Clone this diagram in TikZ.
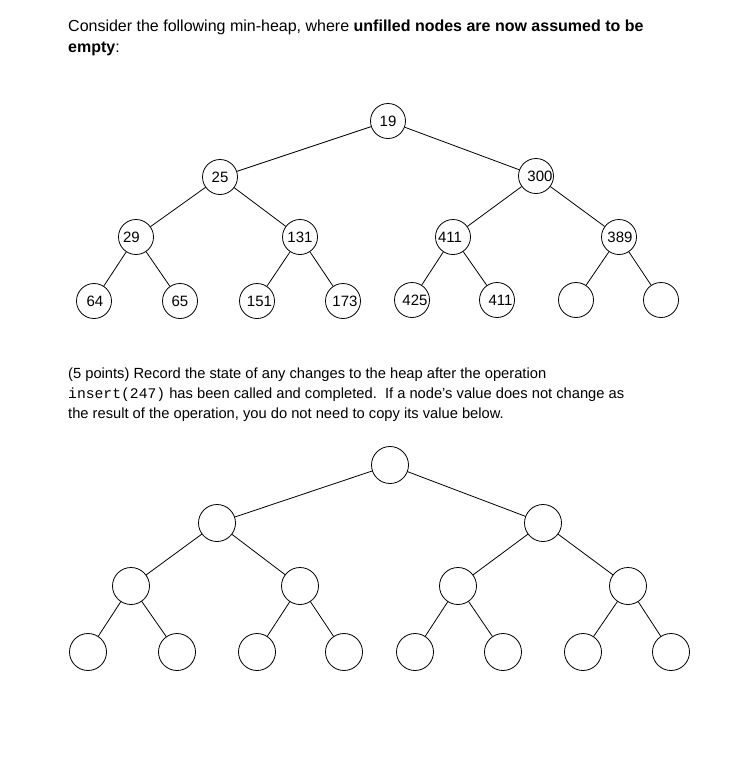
\documentclass[tikz,border=0pt]{standalone}
\usepackage{fontspec}
\setmainfont{Liberation Sans}
\setmonofont{Liberation Mono}
\usetikzlibrary{positioning}

\newcommand{\nudge}[2]{\hspace*{#1}#2}

\begin{document}
\begin{tikzpicture}[x=1pt,y=-1pt, line cap=round, line join=round,
  headtxt/.style={anchor=base west, inner sep=0pt, font=\fontsize{16}{19}\selectfont},
  txt/.style={anchor=base west, inner sep=0pt, font=\fontsize{14.7}{17}\selectfont},
  hnode/.style={circle, draw, line width=0.8pt, inner sep=0pt, minimum size=35pt,
    font=\fontsize{15}{15}\selectfont},
  bnode/.style={hnode, minimum size=37pt},
  edge/.style={line width=0.8pt}]

\useasboundingbox (0,0) rectangle (738,782);

% heading
\node[headtxt] (head1) at (68,31) {Consider the following min-heap, where \textbf{unfilled nodes are now assumed to be}};
\node[headtxt] (head2) at (68,52) {\textbf{empty}:};

% given heap
\node[hnode] (t1) at (388,121) {19};
\node[hnode] (t2) at (220,177) {25};
\node[hnode] (t3) at (536,176) {\nudge{8pt}{300}};
\node[hnode] (t4) at (136,237) {\nudge{-9pt}{29}};
\node[hnode] (t5) at (300,237) {131};
\node[hnode] (t6) at (453,237) {\nudge{-6pt}{411}};
\node[hnode] (t7) at (619,237) {\nudge{2pt}{389}};
\node[hnode] (t8)  at (94,301)  {\nudge{2pt}{64}};
\node[hnode] (t9)  at (180,301) {65};
\node[hnode] (t10) at (257,301) {\nudge{5pt}{151}};
\node[hnode] (t11) at (343,301) {\nudge{4pt}{173}};
\node[hnode] (t12) at (412,300) {\nudge{6pt}{\raisebox{-2pt}{425}}};
\node[hnode] (t13) at (497,300) {\nudge{7pt}{411}};
\node[hnode] (t14) at (576,300) {};
\node[hnode] (t15) at (661,300) {};

\draw[edge] (t1) -- (t2);
\draw[edge] (t1) -- (t3);
\draw[edge] (t2) -- (t4);
\draw[edge] (t2) -- (t5);
\draw[edge] (t3) -- (t6);
\draw[edge] (t3) -- (t7);
\draw[edge] (t4) -- (t8);
\draw[edge] (t4) -- (t9);
\draw[edge] (t5) -- (t10);
\draw[edge] (t5) -- (t11);
\draw[edge] (t6) -- (t12);
\draw[edge] (t6) -- (t13);
\draw[edge] (t7) -- (t14);
\draw[edge] (t7) -- (t15);

% question
\node[txt] (q1) at (68,378) {(5 points) Record the state of any changes to the heap after the operation};
\node[txt] (q2) at (68,398) {\texttt{insert(247)} has been called and completed.\ \ If a node's value does not change as};
\node[txt] (q3) at (68,418) {the result of the operation, you do not need to copy its value below.};

% answer heap
\node[bnode] (b1) at (390,465) {};
\node[bnode] (b2) at (217,523) {};
\node[bnode] (b3) at (543,523) {};
\node[bnode] (b4) at (131,586) {};
\node[bnode] (b5) at (300,586) {};
\node[bnode] (b6) at (458,586) {};
\node[bnode] (b7) at (628,586) {};
\node[bnode] (b8)  at (88,652)  {};
\node[bnode] (b9)  at (177,652) {};
\node[bnode] (b10) at (257,652) {};
\node[bnode] (b11) at (344,652) {};
\node[bnode] (b12) at (415,652) {};
\node[bnode] (b13) at (503,652) {};
\node[bnode] (b14) at (583,652) {};
\node[bnode] (b15) at (671,652) {};

\draw[edge] (b1) -- (b2);
\draw[edge] (b1) -- (b3);
\draw[edge] (b2) -- (b4);
\draw[edge] (b2) -- (b5);
\draw[edge] (b3) -- (b6);
\draw[edge] (b3) -- (b7);
\draw[edge] (b4) -- (b8);
\draw[edge] (b4) -- (b9);
\draw[edge] (b5) -- (b10);
\draw[edge] (b5) -- (b11);
\draw[edge] (b6) -- (b12);
\draw[edge] (b6) -- (b13);
\draw[edge] (b7) -- (b14);
\draw[edge] (b7) -- (b15);

\end{tikzpicture}
\end{document}
